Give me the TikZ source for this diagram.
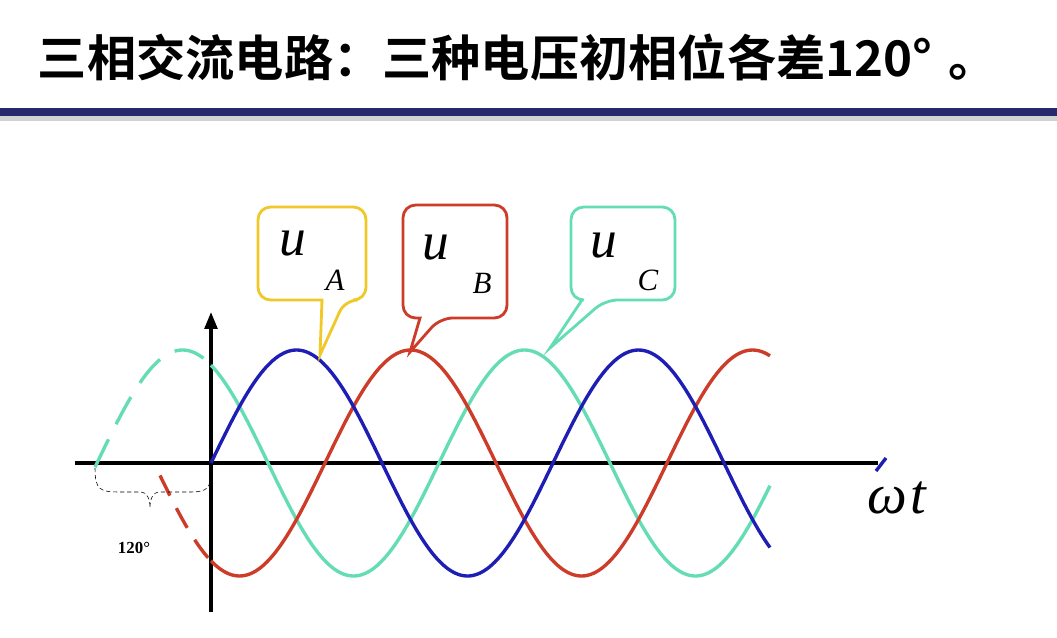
\documentclass[tikz,border=0pt]{standalone}
\usepackage{fontspec}
\setmainfont{Liberation Serif}
\newfontfamily\cjk{Noto Sans CJK SC}[BoldFont={Noto Sans CJK SC Bold}]
\usetikzlibrary{arrows.meta}
\definecolor{cblue}{RGB}{30,30,180}
\definecolor{cred}{RGB}{205,60,40}
\definecolor{cgreen}{RGB}{100,220,180}
\definecolor{cyel}{RGB}{240,200,40}
\definecolor{cnavy}{RGB}{40,40,110}
\tikzset{
  wave/.style={line width=2.4pt},
  bubble/.style={line width=2pt, rounded corners=9pt, fill=white},
  ulab/.style={font=\itshape\fontsize{38}{38}\selectfont},
  slab/.style={font=\itshape\fontsize{22}{22}\selectfont},
}
\begin{document}
\begin{tikzpicture}[x={(0.025cm,0)},y={(0,-0.025cm)}]
\useasboundingbox (0,0) rectangle (1057,637);
\node[font=\cjk\bfseries\fontsize{35}{35}\selectfont, anchor=west] (title) at (33,58) {三相交流电路：三种电压初相位各差120°\,\,。};
\fill[gray!35] (0,116) rectangle (1057,121);
\fill[cnavy] (0,108) rectangle (1057,116);
% axes
\coordinate (xl) at (75,463); \coordinate (xr) at (878,463);
\coordinate (yb) at (211,612); \coordinate (yt) at (211,312);
\draw[line width=2.4pt] (xl) -- (xr);
\draw[line width=2.4pt,-{Triangle[length=12pt,width=9pt]}] (yb) -- (yt);
\coordinate (bs1) at (876,471); \coordinate (bs2) at (886,458);
\draw[cblue,line width=2.4pt] (bs1) -- (bs2);
\node[font=\itshape\fontsize{40}{40}\selectfont] (wt) at (897,498) {ω\kern2pt t};
% waves
\draw[wave,cgreen] plot[domain=211:770,samples=200] (\x,{463-113*sin((\x-211)*1.052632+120)});
\draw[wave,cgreen,dash pattern=on 22pt off 12pt] plot[domain=95:211,samples=60] (\x,{463-113*sin((\x-211)*1.052632+120)});
\draw[wave,cred] plot[domain=211:770,samples=200] (\x,{463-113*sin((\x-211)*1.052632-120)});
\draw[wave,cred,dash pattern=on 16pt off 10pt] plot[domain=160:211,samples=30] (\x,{463-113*sin((\x-211)*1.052632-120)});
\draw[wave,cblue] plot[domain=211:770,samples=200] (\x,{463-113*sin((\x-211)*1.052632)});
% 120 brace
\draw[densely dashed,thin] (95,468) .. controls (95,490) and (100,492) .. (120,492) -- (140,492) .. controls (148,492) and (150,500) .. (150,508)
  .. controls (150,500) and (152,492) .. (160,492) -- (190,492) .. controls (208,492) and (211,488) .. (211,470);
\node[font=\bfseries\fontsize{12}{12}\selectfont] (deg) at (134,548) {120°};
% callouts
\draw[bubble,draw=cyel] (258,207) -- (366,207) -- (366,300) -- (345,300) [sharp corners]-- (320,355) -- (322,300) [rounded corners=9pt]-- (258,300) -- cycle;
\draw[bubble,draw=cred] (403,205) -- (507,205) -- (507,318) -- (440,318) [sharp corners]-- (410,352) -- (420,318) [rounded corners=9pt]-- (403,318) -- cycle;
\draw[bubble,draw=cgreen] (571,207) -- (675,207) -- (675,300) -- (605,300) [sharp corners]-- (550,348) -- (582,300) [rounded corners=9pt]-- (571,300) -- cycle;
\node[ulab] (ua) at (293,244) {u}; \node[slab] (sa) at (335,280) {A};
\node[ulab] (ub) at (436,248) {u}; \node[slab] (sb) at (482,283) {B};
\node[ulab] (uc) at (604,246) {u}; \node[slab] (sc) at (648,280) {C};
\end{tikzpicture}
\end{document}
